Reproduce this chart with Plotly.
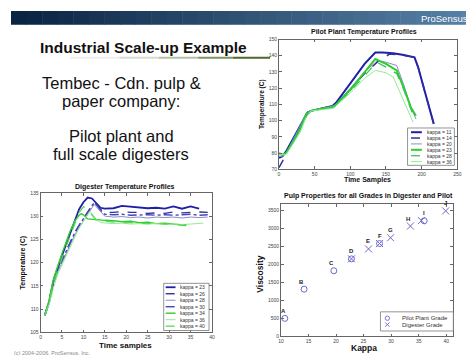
import plotly.graph_objects as go

W, H = 474, 355
FONT = "Liberation Sans, Arial, Helvetica, sans-serif"

# ---------------- Pilot plant temperature profiles ----------------
pilot_labels = ["kappa = 11", "kappa = 14", "kappa = 20", "kappa = 23", "kappa = 28", "kappa = 36"]
p11_t = [0, 5, 10, 20, 30, 40, 45, 55, 65, 75, 80, 100, 120, 135, 145, 160, 175, 190, 195, 205, 212, 217]
p11_y = [77, 78, 81, 89, 97, 105, 106, 107, 108, 109, 111, 123, 135, 142, 142, 141.5, 140.5, 139, 133, 117, 106, 98]
p14_t = [0, 5, 10, 20, 30, 40, 45, 55, 65, 75, 80, 100, 120, 140, 155, 170, 190, 195, 205, 212, 217]
p14_y = [71, 75, 80, 88, 96, 104, 106, 107, 108, 109, 110, 119, 129, 137, 141, 140.5, 139, 133, 117, 106, 98]
p20_t = [0, 5, 10, 20, 30, 40, 45, 55, 65, 75, 80, 100, 120, 138, 150, 165, 175, 185, 192]
p20_y = [78, 78, 80, 89, 97, 105, 106, 107, 108, 109, 110, 120, 130, 137, 136, 134, 122, 108, 101]
p23_t = [0, 5, 10, 20, 30, 38, 45, 55, 65, 72, 78, 100, 120, 135, 150, 165, 175, 185, 192]
p23_y = [80, 79, 80, 87, 95, 104, 106, 107, 108, 108, 109, 119, 130, 138, 135, 131, 120, 108, 103]
p28_t = [0, 5, 10, 20, 30, 38, 45, 55, 65, 72, 78, 100, 120, 137, 150, 165, 175, 185, 190]
p28_y = [79, 79, 80, 87, 95, 104, 106, 107, 108, 108, 109, 118, 128, 136, 133, 129, 119, 107, 101]
p36_t = [0, 5, 10, 20, 30, 38, 45, 55, 65, 72, 76, 100, 120, 135, 150, 160, 170, 180, 188]
p36_y = [79, 79, 79, 86, 93, 102, 106, 106.5, 107, 107, 107.5, 117, 126, 131, 129.5, 127, 117, 106, 99]

# ---------------- Digester temperature profiles ----------------
digester_labels = ["kappa = 23", "kappa = 26", "kappa = 28", "kappa = 30", "kappa = 34", "kappa = 36", "kappa = 40"]
d23_t = [1, 2, 3, 4, 5, 6, 7, 8, 9, 10, 11, 12, 13, 14, 15, 17, 19, 21, 23, 25, 27, 29, 31, 33, 35, 37]
d23_y = [108.7, 111.5, 116, 119, 121.5, 124, 126.5, 129, 131.5, 133, 134, 133.8, 132.8, 131.8, 131.6, 131.7,
         132.2, 132, 131.8, 131.7, 131.8, 131.6, 132.1, 131.6, 132.1, 131.6]
dB_t = [1, 2, 3, 4, 5, 6, 7, 8, 9, 10, 11, 12, 12.5, 13, 14, 15, 17, 19, 21, 23, 25, 27, 29, 31, 33, 35, 37, 39]
d26_y = [108.7, 112, 116, 118.5, 120.5, 122.5, 124.5, 126.5, 128, 129.5, 131, 132.5, 133, 132.5, 131.5, 130.8,
         130.8, 131, 130.8, 130.8, 130.6, 130.7, 130.6, 130.9, 130.7, 130.8, 130.9, 130.8]
d28_y = [108.7, 111.5, 115.5, 118, 120, 122, 124, 126, 127.5, 129, 130.5, 132, 132.5, 132, 131, 130, 129.8,
         129.9, 129.7, 129.8, 129.6, 129.8, 129.7, 129.8, 129.6, 129.8, 129.7, 129.8]
d30_y = [108.7, 111.5, 115.5, 118.5, 120.5, 122.5, 124.5, 126.5, 128, 129.5, 131, 132.3, 132.8, 132.5, 131.3,
         130.4, 130.3, 130.4, 130.2, 130.3, 130.3, 130.2, 130.3, 130.2, 130.3, 130.4, 130.2, 130.3]
d34_t = [1, 2, 3, 4, 5, 6, 7, 8, 9, 9.5, 10, 11, 12, 13, 14, 15, 17, 19, 21, 23, 25, 27, 29, 31, 33, 34]
d34_y = [108.7, 112, 116.5, 119.5, 122, 124.5, 127, 129, 130.2, 130.5, 130.3, 129.4, 129.3, 129.3, 129.2,
         129.1, 129, 128.8, 128.9, 128.6, 128.7, 128.4, 128.5, 128.3, 128.1, 128.0]
d36_t = [1, 2, 3, 4, 5, 6, 7, 8, 9, 10, 11, 11.5, 12, 13, 14, 15, 17, 19, 21, 23, 25, 27, 29, 31, 33, 35, 37, 38]
d36_y = [108.7, 111, 114.5, 117.5, 119.5, 121.5, 123.5, 125.5, 127.5, 129, 130.5, 131, 130.5, 129.3, 128.6,
         128.5, 128.4, 128.5, 128.3, 128.4, 128.3, 128.4, 128.2, 128.3, 128.2, 128.3, 128.4, 128.5]
d40_t = [1, 2, 3, 4, 5, 6, 7, 8, 9, 10, 11, 12, 13, 14, 15, 17, 19, 21, 23, 25, 27, 29, 31, 33, 34, 35]
d40_y = [108.7, 111.5, 115.5, 118.5, 121, 123.5, 126, 128.5, 130.8, 132, 131.6, 130.2, 129.2, 129, 128.9,
         128.8, 128.6, 128.6, 128.5, 128.4, 128.5, 128.3, 128.4, 128.0, 128.2, 128.8]

# ---------------- Pulp properties ----------------
pilot_grade = ["A", "B", "C", "D", "F", "I"]
pilot_kappa = [10.7, 14.2, 19.6, 22.8, 27.9, 36.0]
pilot_visc = [500, 1310, 1820, 2150, 2575, 3205]
dig_grade = ["D", "E", "F", "G", "H", "I", "J"]
dig_kappa = [22.8, 25.9, 27.9, 29.9, 33.5, 35.5, 39.9]
dig_visc = [2150, 2425, 2575, 2735, 3060, 3210, 3480]
grade_letters = ["A", "B", "C", "D", "E", "F", "G", "H", "I", "J"]
grade_kappa = [10.4, 13.8, 19.1, 22.8, 25.8, 28.0, 29.8, 33.1, 36.0, 39.8]
grade_visc = [500, 1310, 1820, 2150, 2425, 2575, 2735, 3060, 3210, 3480]

# ---------------- helpers (pixel -> paper) ----------------
def px(x):
    return x / W

def py(y):
    return 1 - y / H

BLUE = "#1f1fa8"
BLUE2 = "#3030a0"
LBLUE = "#8c8cc8"
DBLUE = "#4545b5"
GREEN = "#2ecc2e"
GREEN2 = "#33c75a"
LGREEN = "#90ee90"
MARK = "#6a6acc"

fig = go.Figure()

pilot_series = [
    (p11_t, p11_y, BLUE, 2.0, "solid"),
    (p14_t, p14_y, BLUE2, 1.5, "dash"),
    (p20_t, p20_y, LBLUE, 1.0, "solid"),
    (p23_t, p23_y, GREEN, 2.0, "solid"),
    (p28_t, p28_y, GREEN2, 1.3, "dash"),
    (p36_t, p36_y, LGREEN, 1.0, "solid"),
]
for (t, y, c, w, d), name in zip(pilot_series, pilot_labels):
    fig.add_trace(go.Scatter(x=t, y=y, mode="lines", line=dict(color=c, width=w, dash=d),
                             name=name, xaxis="x", yaxis="y", showlegend=False))

dig_series = [
    (d23_t, d23_y, BLUE, 1.8, "solid"),
    (dB_t, d26_y, BLUE2, 1.4, "dash"),
    (dB_t, d28_y, LBLUE, 1.0, "solid"),
    (dB_t, d30_y, DBLUE, 1.4, "dashdot"),
    (d34_t, d34_y, GREEN, 1.4, "solid"),
    (d36_t, d36_y, LGREEN, 1.0, "solid"),
    (d40_t, d40_y, "#5ad85a", 1.3, "dash"),
]
for (t, y, c, w, d), name in zip(dig_series, digester_labels):
    fig.add_trace(go.Scatter(x=t, y=y, mode="lines", line=dict(color=c, width=w, dash=d),
                             name=name, xaxis="x2", yaxis="y2", showlegend=False))

fig.add_trace(go.Scatter(x=pilot_kappa, y=pilot_visc, mode="markers", name="Pilot Plant Grade",
                         marker=dict(symbol="circle-open", size=6, color=MARK, line=dict(width=1)),
                         xaxis="x3", yaxis="y3", showlegend=False))
fig.add_trace(go.Scatter(x=dig_kappa, y=dig_visc, mode="markers", name="Digester Grade",
                         marker=dict(symbol="x-thin-open", size=7, color=MARK, line=dict(width=1, color=MARK)),
                         xaxis="x3", yaxis="y3", showlegend=False))

axis_common = dict(showline=True, linecolor="#666", linewidth=0.8, mirror="ticks", ticks="inside",
                   ticklen=3, tickwidth=0.6, tickcolor="#666", showgrid=False, zeroline=False,
                   tickfont=dict(size=5, color="#444", family=FONT))

fig.update_layout(
    width=W, height=H, margin=dict(l=0, r=0, t=0, b=0),
    paper_bgcolor="white", plot_bgcolor="white", showlegend=False,
    xaxis=dict(domain=[px(272), px(453)], range=[0, 250], tickvals=[0, 50, 100, 150, 200, 250],
               anchor="y", **axis_common),
    yaxis=dict(domain=[py(161), py(29)], range=[70, 150], tickvals=list(range(70, 151, 10)),
               anchor="x", **axis_common),
    xaxis2=dict(domain=[px(30), px(204)], range=[0, 40], tickvals=list(range(0, 41, 5)),
                anchor="y2", **axis_common),
    yaxis2=dict(domain=[py(327), py(185)], range=[105, 135], tickvals=list(range(105, 136, 5)),
                anchor="x2", **axis_common),
    xaxis3=dict(domain=[px(274), px(449)], range=[10, 41.3], tickvals=list(range(10, 41, 5)),
                anchor="y3", **axis_common),
    yaxis3=dict(domain=[py(331), py(196)], range=[0, 3680], tickvals=list(range(0, 3501, 500)),
                anchor="x3", **axis_common),
)

shapes = []
annotations = []

def ann(text, x, y, size, color="black", bold=False, xanchor="center", yanchor="middle", angle=0, family=FONT):
    annotations.append(dict(text=("<b>%s</b>" % text) if bold else text, x=px(x), y=py(y),
                            xref="paper", yref="paper", showarrow=False, xanchor=xanchor, yanchor=yanchor,
                            textangle=angle, font=dict(size=size, color=color, family=family)))

# grade letters anchored to their data points
for g, k, v in zip(grade_letters, grade_kappa, grade_visc):
    annotations.append(dict(text="<b>%s</b>" % g, x=k, y=v, xref="x3", yref="y3", showarrow=False,
                            yshift=7.5, font=dict(size=6, color="#222", family=FONT)))

# top banner gradient
n = 30
c0 = (10, 36, 66)
c1 = (88, 130, 168)
for i in range(n):
    f = i / (n - 1)
    col = "rgb(%d,%d,%d)" % tuple(int(c0[k] + (c1[k] - c0[k]) * f) for k in range(3))
    shapes.append(dict(type="rect", xref="paper", yref="paper", x0=px(W * i / n), x1=px(W * (i + 1) / n + 0.5),
                       y0=py(14), y1=py(0), fillcolor=col, line=dict(width=0), layer="below"))
# bottom bar
for i in range(n):
    f = i / (n - 1)
    col = "rgb(%d,%d,%d)" % (int(30 + 40 * f), int(90 + 40 * f), int(150 + 30 * f))
    shapes.append(dict(type="rect", xref="paper", yref="paper", x0=px(W * i / n), x1=px(W * (i + 1) / n + 0.5),
                       y0=py(355), y1=py(350.5), fillcolor=col, line=dict(width=0), layer="below"))
# title underline gradient
segs = [(60, 110, "#eeeeee"), (110, 150, "#d8dcd0"), (150, 190, "#b5c0a5"), (190, 225, "#7f9460"),
        (225, 263, "#4d6a2a")]
for x0, x1, col in segs:
    shapes.append(dict(type="line", xref="paper", yref="paper", x0=px(x0), x1=px(x1), y0=py(47.5), y1=py(47.5),
                       line=dict(color=col, width=2)))

ann("ProSensus", 440, 8, 9.5, color="white")
ann("Industrial Scale-up Example", 134, 37.5, 15.5, bold=True, color="#111")
ann("Tembec - Cdn. pulp &", 112, 73, 16.5, color="#111")
ann("paper company:", 112, 92, 16.5, color="#111")
ann("Pilot plant and", 112, 127, 16.5, color="#111")
ann("full scale digesters", 112, 145, 16.5, color="#111")
ann("(c) 2004-2006, ProSensus, Inc.", 1, 347.5, 5.5, color="#888", xanchor="left")

# chart titles / axis titles
ann("Pilot Plant Temperature Profiles", 358, 21.5, 7, bold=True, color="#111")
ann("Time Samples", 362, 172, 7, bold=True, color="#111")
ann("Temperature (C)", 255.5, 95, 6.5, bold=True, color="#111", angle=-90)
ann("Digester Temperature Profiles", 116, 179.5, 7, bold=True, color="#111")
ann("Time samples", 116, 340, 8, bold=True, color="#111")
ann("Temperature (C)", 12, 256, 7, bold=True, color="#111", angle=-90)
ann("Pulp Properties for all Grades in Digester and Pilot", 363, 188, 7, bold=True, color="#111")
ann("Kappa", 358, 343, 8.5, bold=True, color="#111")
ann("Viscosity", 253, 268, 8.5, bold=True, color="#111", angle=-90)

# legend helper
def legend_box(x0, x1, y0, y1):
    shapes.append(dict(type="rect", xref="paper", yref="paper", x0=px(x0), x1=px(x1), y0=py(y1), y1=py(y0),
                       fillcolor="white", line=dict(color="#666", width=0.7)))

# pilot legend
legend_box(402.5, 450, 119, 157)
prow = [123.3, 129.2, 135.2, 141.2, 147.2, 153.2]
for (t, y, c, w, d), name, ry in zip(pilot_series, pilot_labels, prow):
    shapes.append(dict(type="line", xref="paper", yref="paper", x0=px(406), x1=px(417), y0=py(ry), y1=py(ry),
                       line=dict(color=c, width=w, dash=d)))
    ann(name, 420, ry, 5, color="#333", xanchor="left")

# digester legend
legend_box(155, 201, 277, 325)
drow = [281, 287.6, 294.2, 300.8, 307.4, 314, 320.6]
for (t, y, c, w, d), name, ry in zip(dig_series, digester_labels, drow):
    shapes.append(dict(type="line", xref="paper", yref="paper", x0=px(157), x1=px(167), y0=py(ry), y1=py(ry),
                       line=dict(color=c, width=w, dash=d)))
    ann(name, 170, ry, 5, color="#333", xanchor="left")

# pulp legend
legend_box(375, 449, 306, 325.5)
shapes.append(dict(type="circle", xref="paper", yref="paper", x0=px(379.8), x1=px(384.2), y0=py(314.7), y1=py(310.3),
                   line=dict(color=MARK, width=0.9)))
for a, b in [((379.8, 316.8), (384.2, 321.2)), ((379.8, 321.2), (384.2, 316.8))]:
    shapes.append(dict(type="line", xref="paper", yref="paper", x0=px(a[0]), y0=py(a[1]), x1=px(b[0]), y1=py(b[1]),
                       line=dict(color=MARK, width=0.9)))
ann("Pilot Plant Grade", 395, 312.5, 6, color="#333", xanchor="left")
ann("Digester Grade", 395, 319, 6, color="#333", xanchor="left")

fig.update_layout(shapes=shapes, annotations=annotations)
fig.write_html("out.html")
